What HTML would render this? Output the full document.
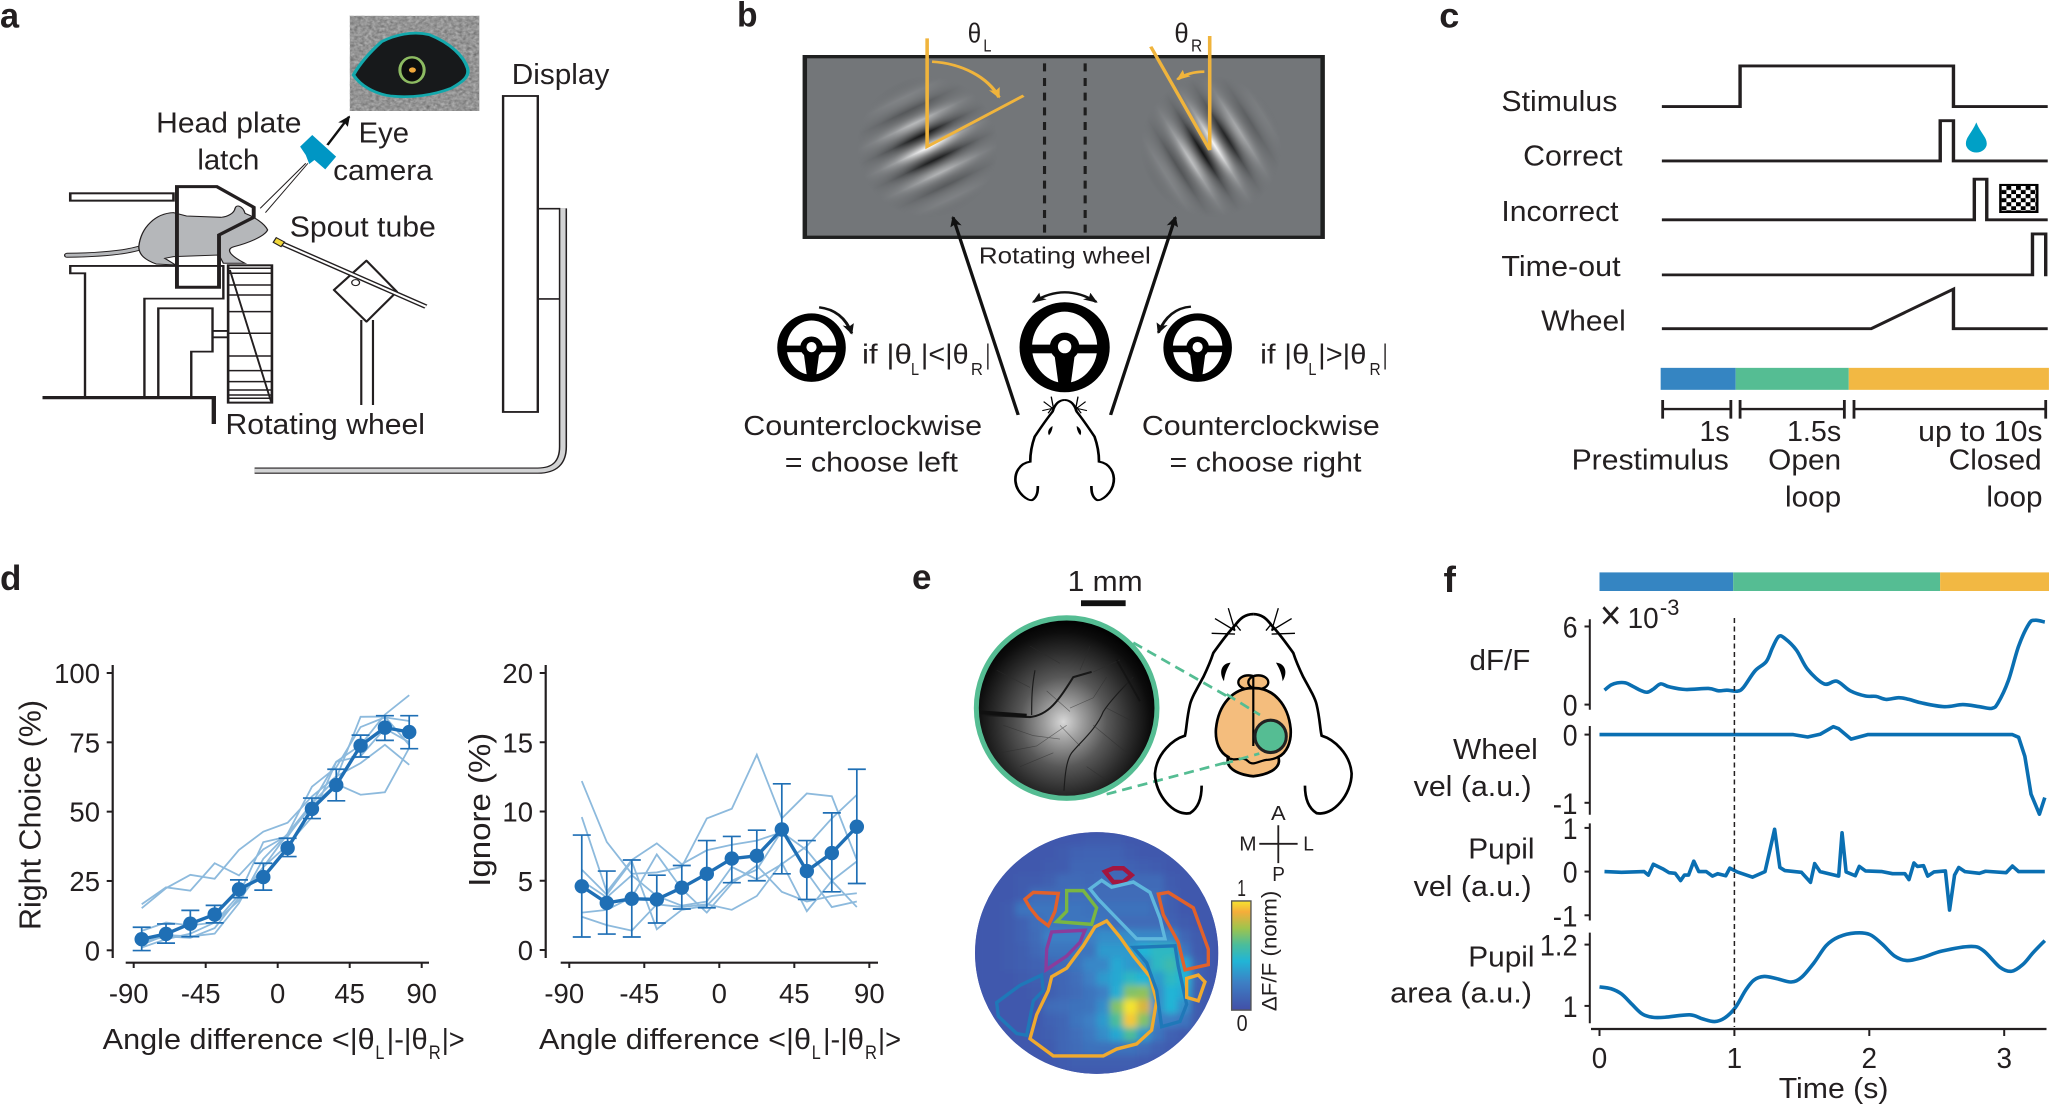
<!DOCTYPE html>
<html lang="en">
<head>
<meta charset="utf-8">
<title>Behavior task and widefield imaging figure</title>
<style>
html,body{margin:0;padding:0;background:#fff;overflow:hidden;}
svg{display:block;font-family:"Liberation Sans",sans-serif;fill:#231f20;}
text{fill:#231f20;}
.b{font-weight:bold;font-size:35px;}
.ln{fill:none;stroke:#231f20;}
</style>
</head>
<body>
<svg id="fig" xmlns="http://www.w3.org/2000/svg" width="2049" height="1108" viewBox="0 0 2049 1108">
<defs>
<marker id="ah" markerUnits="userSpaceOnUse" markerWidth="34" markerHeight="28" refX="28" refY="13" orient="auto-start-reverse"><path d="M0 0L32 13L0 26L7 13Z" fill="#111"/></marker>
<marker id="ao" markerUnits="userSpaceOnUse" markerWidth="34" markerHeight="28" refX="28" refY="13" orient="auto"><path d="M0 0L32 13L0 26L7 13Z" fill="#f0b43c"/></marker>
<linearGradient id="gabL" gradientUnits="userSpaceOnUse" x1="436" y1="416" x2="478" y2="482" spreadMethod="repeat">
<stop offset="0" stop-color="#000"/><stop offset=".25" stop-color="#777"/><stop offset=".5" stop-color="#fff"/><stop offset=".75" stop-color="#777"/><stop offset="1" stop-color="#000"/></linearGradient>
<linearGradient id="gabR" gradientUnits="userSpaceOnUse" x1="1078" y1="452" x2="1140" y2="423" spreadMethod="repeat">
<stop offset="0" stop-color="#000"/><stop offset=".25" stop-color="#777"/><stop offset=".5" stop-color="#fff"/><stop offset=".75" stop-color="#777"/><stop offset="1" stop-color="#000"/></linearGradient>
<radialGradient id="fade"><stop offset="0" stop-color="#fff"/><stop offset=".25" stop-color="#b0b0b0"/><stop offset=".5" stop-color="#505050"/><stop offset=".75" stop-color="#1c1c1c"/><stop offset="1" stop-color="#000"/></radialGradient>
<mask id="mL" maskUnits="userSpaceOnUse" x="295" y="215" width="340" height="450"><ellipse cx="465" cy="440" rx="158" ry="212" fill="url(#fade)"/></mask>
<mask id="mR" maskUnits="userSpaceOnUse" x="930" y="215" width="340" height="450"><ellipse cx="1100" cy="440" rx="158" ry="212" fill="url(#fade)"/></mask>
<pattern id="chk" patternUnits="userSpaceOnUse" width="24" height="24" x="1450" y="550"><rect width="24" height="24" fill="#000"/><rect width="12" height="12" fill="#fff"/><rect x="12" y="12" width="12" height="12" fill="#fff"/></pattern>
<radialGradient id="brainImg" gradientUnits="userSpaceOnUse" cx="430" cy="470" r="290"><stop offset="0" stop-color="#d8d8d8"/><stop offset=".2" stop-color="#9c9c9c"/><stop offset=".45" stop-color="#585858"/><stop offset=".7" stop-color="#2c2c2c"/><stop offset=".9" stop-color="#0c0c0c"/><stop offset="1" stop-color="#030303"/></radialGradient>
<linearGradient id="cbar" x1="0" y1="1" x2="0" y2="0"><stop offset="0" stop-color="#424fa7"/><stop offset=".25" stop-color="#3d7fc4"/><stop offset=".45" stop-color="#21b5d6"/><stop offset=".6" stop-color="#4bbd9a"/><stop offset=".75" stop-color="#9fc44d"/><stop offset=".9" stop-color="#f5ad3a"/><stop offset="1" stop-color="#f5e42f"/></linearGradient>
<clipPath id="heatClip"><ellipse cx="530" cy="1141" rx="365" ry="351"/></clipPath>
<filter id="soft" x="-5%" y="-5%" width="110%" height="110%"><feGaussianBlur stdDeviation="10"/></filter>
<filter id="grain" x="0" y="0" width="100%" height="100%"><feTurbulence type="fractalNoise" baseFrequency=".12" numOctaves="2" seed="4"/><feColorMatrix values="0 0 0 0 .45 0 0 0 0 .45 0 0 0 0 .45 .9 .9 0 0 -.35"/></filter>
<g id="steer"><ellipse rx="87" ry="121" fill="none" stroke="#000" stroke-width="28"/><rect x="-92" y="-8" width="184" height="26" fill="#000"/><path d="M-24 10L24 10L13 118L-13 118Z" fill="#000"/><ellipse cy="-2" rx="33" ry="42" fill="#000"/><ellipse cy="-2" rx="15" ry="20" fill="#fff"/></g>
<g id="mouseHalfB"><path d="M772 1200C760 1200 750 1212 745 1235C730 1260 715 1290 705 1310C697 1340 695 1370 695 1385C670 1390 660 1420 662 1445C665 1480 690 1505 700 1500C712 1490 712 1470 712 1458" fill="none" stroke="#000" stroke-width="6"/><path d="M745 1225L725 1205M745 1225L722 1232M748 1232L742 1190M745 1222L735 1240" stroke="#000" stroke-width="3" fill="none"/><path d="M745 1278C735 1285 733 1298 737 1306C742 1298 745 1288 745 1278Z" fill="#000"/></g>
<g id="mouseHalfE"><path d="M1000 157C975 157 960 170 945 190C920 215 895 250 880 270C870 300 860 320 850 340C830 375 815 400 810 420C800 460 800 490 795 510C760 520 710 560 705 620C705 680 760 745 810 735C835 720 845 690 845 655" fill="none" stroke="#000" stroke-width="8"/><path d="M945 205L925 140M945 205L885 170M945 215L875 213M962 205L945 185" fill="none" stroke="#000" stroke-width="4"/><path d="M932 298C905 300 895 325 912 352C915 325 925 310 932 298Z" fill="#000"/></g>
</defs>

<rect width="2049" height="1108" fill="#fff"/>

<!-- PANEL A -->
<g transform="scale(.4337,.3333)" font-size="86">
<text class="b" style="font-size:105px" x="0" y="82" textLength="44" lengthAdjust="spacingAndGlyphs">a</text>
<g>
<rect x="807" y="48" width="298" height="285" fill="#6e6e6e"/>
<rect x="807" y="48" width="298" height="285" filter="url(#grain)"/>
<path d="M815 225C830 190 850 160 880 125C910 105 950 92 990 104C1040 130 1070 170 1078 205C1082 225 1075 240 1040 265C1000 285 950 295 900 288C860 280 830 255 815 225Z" fill="#17191b" stroke="#13a8ac" stroke-width="8"/>
<ellipse cx="950" cy="210" rx="28" ry="38" fill="#0d0d0d" stroke="#8dbb62" stroke-width="7"/>
<ellipse cx="951" cy="210" rx="8" ry="8" fill="#f0a83c"/>
</g>
<text x="1180" y="252" textLength="225" lengthAdjust="spacingAndGlyphs">Display</text>
<text x="360" y="398" textLength="335" lengthAdjust="spacingAndGlyphs">Head plate</text>
<text x="455" y="508" textLength="143" lengthAdjust="spacingAndGlyphs">latch</text>
<text x="827" y="428" textLength="116" lengthAdjust="spacingAndGlyphs">Eye</text>
<text x="768" y="540" textLength="230" lengthAdjust="spacingAndGlyphs">camera</text>
<text x="668" y="710" textLength="337" lengthAdjust="spacingAndGlyphs">Spout tube</text>
<text x="520" y="1302" textLength="460" lengthAdjust="spacingAndGlyphs">Rotating wheel</text>
<path d="M755 435L805 350" stroke="#111" stroke-width="6" fill="none" marker-end="url(#ah)"/>
<path d="M720 405L775 470L750 508L725 480L713 492L705 465L692 440Z" fill="#0096c4"/>
<path d="M705 490L600 625M710 490L612 638" stroke="#231f20" stroke-width="2.5" fill="none"/>
<rect x="162" y="580" width="238" height="22" fill="none" stroke="#231f20" stroke-width="6"/>
<path d="M155 766C210 765 280 760 320 745" fill="none" stroke="#231f20" stroke-width="15" stroke-linecap="round"/>
<path d="M155 766C210 765 280 760 320 745" fill="none" stroke="#b5b7ba" stroke-width="9" stroke-linecap="round"/>
<path d="M320 740C325 680 360 640 400 638L430 648L510 652C525 650 540 640 542 625C545 612 560 618 565 640C585 650 610 670 617 690C610 710 570 730 540 740C525 745 520 760 565 790L515 790L505 765L400 770L380 775L405 795L360 792C335 780 320 765 320 740Z" fill="#b5b7ba" stroke="#231f20" stroke-width="3"/>
<path d="M408 862V560H500L585 622V652L505 705V862Z" fill="none" stroke="#231f20" stroke-width="9"/>
<path d="M196 1190V820H162V798H515V896H333V1190M365 1190V925H490V1055H441V1190M492 993H525M492 1012H525" fill="none" stroke="#231f20" stroke-width="5.5"/>
<path d="M98 1193H493V1272" fill="none" stroke="#231f20" stroke-width="10"/>
<rect x="526" y="796" width="101" height="412" fill="#fff" stroke="#231f20" stroke-width="6"/>
<path d="M526 805H627M526 820H627M526 855H627M526 885H627M526 935H627M526 1000H627M526 1068H627M526 1112H627M526 1145H627M526 1170H627M526 1185H627M526 1195H627M530 810L625 1205" fill="none" stroke="#231f20" stroke-width="4.5"/>
<path d="M845 782L915 875L845 965L770 870Z" fill="#fff" stroke="#231f20" stroke-width="5.5" stroke-linejoin="round"/>
<path d="M833 960V1215M860 960V1215" fill="none" stroke="#231f20" stroke-width="5"/>
<circle cx="820" cy="848" r="9" fill="#fff" stroke="#231f20" stroke-width="3"/>
<path d="M640 725L982 920" stroke="#231f20" stroke-width="14" fill="none"/>
<path d="M640 725L982 920" stroke="#fff" stroke-width="6" fill="none"/>
<path d="M637 713L656 726L648 740L630 727Z" fill="#f2d83a" stroke="#231f20" stroke-width="3"/>
<rect x="1160" y="288" width="80" height="948" fill="#fff" stroke="#231f20" stroke-width="5.5"/>
<path d="M1240 626H1292M1240 897H1292" fill="none" stroke="#231f20" stroke-width="5"/>
<path d="M1298 625V1340Q1298 1412 1240 1412H587" fill="none" stroke="#231f20" stroke-width="19"/>
<path d="M1298 625V1340Q1298 1412 1240 1412H587" fill="none" stroke="#d2d3d4" stroke-width="12"/>
</g>

<!-- PANEL B -->
<g transform="translate(720,0) scale(.4464,.3333)" font-size="83">
<text class="b" style="font-size:105px" x="38" y="80" textLength="46" lengthAdjust="spacingAndGlyphs">b</text>
<rect x="190" y="170" width="1160" height="542" fill="#737679" stroke="#1f2020" stroke-width="10"/>
<ellipse cx="465" cy="440" rx="158" ry="212" fill="url(#gabL)" mask="url(#mL)"/>
<ellipse cx="1100" cy="440" rx="158" ry="212" fill="url(#gabR)" mask="url(#mR)"/>
<path d="M727 190V698M818 190V698" stroke="#1d1d1d" stroke-width="7" stroke-dasharray="24 20" fill="none"/>
<path d="M464 115V440L680 287" stroke="#f0b43c" stroke-width="8" fill="none"/>
<path d="M475 185C540 190 600 230 625 292" stroke="#f0b43c" stroke-width="8" fill="none" marker-end="url(#ao)"/>
<path d="M1097 108V450L965 140" stroke="#f0b43c" stroke-width="8" fill="none"/>
<path d="M1085 215Q1050 215 1025 238" stroke="#f0b43c" stroke-width="8" fill="none" marker-end="url(#ao)"/>
<text x="555" y="128" textLength="30" lengthAdjust="spacingAndGlyphs">θ</text>
<text x="590" y="155" font-size="52" textLength="18" lengthAdjust="spacingAndGlyphs">L</text>
<text x="1018" y="128" textLength="32" lengthAdjust="spacingAndGlyphs">θ</text>
<text x="1055" y="155" font-size="52" textLength="25" lengthAdjust="spacingAndGlyphs">R</text>
<path d="M668 1245L522 652" stroke="#111" stroke-width="7.5" fill="none" marker-end="url(#ah)"/>
<path d="M875 1245L1020 652" stroke="#111" stroke-width="7.5" fill="none" marker-end="url(#ah)"/>
<text x="580" y="790" font-size="70" textLength="385" lengthAdjust="spacingAndGlyphs">Rotating wheel</text>
<use href="#steer" transform="translate(772,1042)"/>
<use href="#steer" transform="translate(205,1043) scale(.76)"/>
<use href="#steer" transform="translate(1070,1043) scale(.76)"/>
<path d="M702 906Q772 848 843 906" stroke="#111" stroke-width="7" fill="none" marker-start="url(#ah)" marker-end="url(#ah)"/>
<path d="M222 922Q275 930 295 1000" stroke="#111" stroke-width="7" fill="none" marker-end="url(#ah)"/>
<path d="M1055 920Q1005 925 982 998" stroke="#111" stroke-width="7" fill="none" marker-end="url(#ah)"/>
<g>
<text x="318" y="1090" textLength="112" lengthAdjust="spacingAndGlyphs">if |θ</text>
<text x="428" y="1125" font-size="52" textLength="18" lengthAdjust="spacingAndGlyphs">L</text>
<text x="450" y="1090" textLength="107" lengthAdjust="spacingAndGlyphs">|&lt;|θ</text>
<text x="562" y="1125" font-size="52" textLength="27" lengthAdjust="spacingAndGlyphs">R</text>
<text x="595" y="1090" textLength="10" lengthAdjust="spacingAndGlyphs">|</text>
</g>
<g>
<text x="1210" y="1090" textLength="110" lengthAdjust="spacingAndGlyphs">if |θ</text>
<text x="1318" y="1125" font-size="52" textLength="18" lengthAdjust="spacingAndGlyphs">L</text>
<text x="1340" y="1090" textLength="108" lengthAdjust="spacingAndGlyphs">|&gt;|θ</text>
<text x="1455" y="1125" font-size="52" textLength="25" lengthAdjust="spacingAndGlyphs">R</text>
<text x="1485" y="1090" textLength="10" lengthAdjust="spacingAndGlyphs">|</text>
</g>
<text x="52" y="1305" textLength="535" lengthAdjust="spacingAndGlyphs">Counterclockwise</text>
<text x="145" y="1415" textLength="388" lengthAdjust="spacingAndGlyphs">= choose left</text>
<text x="945" y="1305" textLength="533" lengthAdjust="spacingAndGlyphs">Counterclockwise</text>
<text x="1007" y="1415" textLength="430" lengthAdjust="spacingAndGlyphs">= choose right</text>
<g>
<use href="#mouseHalfB"/>
<use href="#mouseHalfB" transform="translate(1544,0) scale(-1,1)"/>
</g>
</g>

<!-- PANEL C -->
<g transform="translate(1420,0) scale(.4011,.3381)" font-size="86">
<text class="b" style="font-size:104px" x="48" y="82" textLength="50" lengthAdjust="spacingAndGlyphs">c</text>
<text x="203" y="328" textLength="289" lengthAdjust="spacingAndGlyphs">Stimulus</text>
<text x="257" y="490" textLength="248" lengthAdjust="spacingAndGlyphs">Correct</text>
<text x="203" y="653" textLength="292" lengthAdjust="spacingAndGlyphs">Incorrect</text>
<text x="203" y="816" textLength="297" lengthAdjust="spacingAndGlyphs">Time-out</text>
<text x="302" y="978" textLength="211" lengthAdjust="spacingAndGlyphs">Wheel</text>
<path class="ln" stroke-width="8.5" d="M603 315H798V195H1330V315H1565"/>
<path class="ln" stroke-width="8.5" d="M603 476H1297V357H1330V476H1565"/>
<path class="ln" stroke-width="8.5" d="M603 650H1382V530H1413V650H1565"/>
<path class="ln" stroke-width="8.5" d="M603 813H1527V692H1560V817"/>
<path class="ln" stroke-width="8.5" d="M603 972H1125L1330 855V972H1565"/>
<path d="M1387 362C1375 395 1361 405 1361 425A26 26 0 0 0 1413 425C1413 405 1398 395 1387 362Z" fill="#00a0c6"/>
<rect x="1447" y="547" width="92" height="80" fill="url(#chk)" stroke="#000" stroke-width="6"/>
<rect x="600" y="1088" width="187" height="65" fill="#3585c2"/>
<rect x="787" y="1088" width="282" height="65" fill="#55bd93"/>
<rect x="1069" y="1088" width="499" height="65" fill="#f2b843"/>
<path class="ln" stroke-width="7" d="M605 1183V1238M605 1210H775M775 1183V1238M798 1183V1238M798 1210H1058M1058 1183V1238M1082 1183V1238M1082 1210H1560M1560 1183V1238"/>
<text x="697" y="1305" textLength="75" lengthAdjust="spacingAndGlyphs">1s</text>
<text x="915" y="1305" textLength="135" lengthAdjust="spacingAndGlyphs">1.5s</text>
<text x="1242" y="1305" textLength="310" lengthAdjust="spacingAndGlyphs">up to 10s</text>
<text x="378" y="1388" textLength="392" lengthAdjust="spacingAndGlyphs">Prestimulus</text>
<text x="868" y="1388" textLength="182" lengthAdjust="spacingAndGlyphs">Open</text>
<text x="910" y="1498" textLength="140" lengthAdjust="spacingAndGlyphs">loop</text>
<text x="1318" y="1388" textLength="232" lengthAdjust="spacingAndGlyphs">Closed</text>
<text x="1412" y="1498" textLength="140" lengthAdjust="spacingAndGlyphs">loop</text>
</g>

<!-- PANEL D static labels -->
<g font-size="29">
<text class="b" x="0" y="590">d</text>
<text transform="translate(40.7,930) rotate(-90)" font-size="31" textLength="230" lengthAdjust="spacingAndGlyphs">Right Choice (%)</text>
<g>
<text x="102.7" y="1049" textLength="272" lengthAdjust="spacingAndGlyphs">Angle difference &lt;|θ</text>
<text x="375.4" y="1059" font-size="19" textLength="9" lengthAdjust="spacingAndGlyphs">L</text>
<text x="386.7" y="1049" textLength="41" lengthAdjust="spacingAndGlyphs">|-|θ</text>
<text x="428.7" y="1059" font-size="19" textLength="12" lengthAdjust="spacingAndGlyphs">R</text>
<text x="441.7" y="1049" textLength="23" lengthAdjust="spacingAndGlyphs">|&gt;</text>
</g>
<text transform="translate(490,886.7) rotate(-90)" font-size="31" textLength="154" lengthAdjust="spacingAndGlyphs">Ignore (%)</text>
<g>
<text x="539" y="1049" textLength="272" lengthAdjust="spacingAndGlyphs">Angle difference &lt;|θ</text>
<text x="811.7" y="1059" font-size="19" textLength="9" lengthAdjust="spacingAndGlyphs">L</text>
<text x="823" y="1049" textLength="41" lengthAdjust="spacingAndGlyphs">|-|θ</text>
<text x="865" y="1059" font-size="19" textLength="12" lengthAdjust="spacingAndGlyphs">R</text>
<text x="878" y="1049" textLength="23" lengthAdjust="spacingAndGlyphs">|&gt;</text>
</g>
</g>

<!-- PANEL E -->
<text class="b" x="912" y="589">e</text>
<g transform="translate(920,560) scale(.3333,.3444)" font-size="84">
<text x="443" y="90" textLength="225" lengthAdjust="spacingAndGlyphs">1 mm</text>
<rect x="483" y="117" width="134" height="17" fill="#111"/>
<path d="M640 240L1020 450M560 680L1020 562" stroke="#55bd93" stroke-width="8" stroke-dasharray="30 18" fill="none"/>
<g>
<ellipse cx="440" cy="430" rx="271" ry="262" fill="url(#brainImg)" stroke="#55bd93" stroke-width="15"/>
<path d="M190 450L330 456C390 450 420 400 460 340L515 325" fill="none" stroke="#181818" stroke-width="6"/>
<path d="M180 442L320 452" fill="none" stroke="#101010" stroke-width="11"/>
<path d="M345 320C335 370 335 410 335 450M432 670C435 620 440 580 455 560C480 530 530 490 550 440C570 410 600 380 640 340" fill="none" stroke="#1c1c1c" stroke-width="3.5"/>
<path d="M230 320L330 370M510 250L480 320M600 290L520 325M240 560L350 540L440 480M420 480L480 540M520 480L620 560M560 430L640 470M300 600L400 560M330 250L420 300M250 480L340 510L420 520M450 430L520 400L560 340M380 380L450 440M500 600L560 640" fill="none" stroke="#2c2c2c" stroke-width="2" opacity=".55"/>
<path d="M590 290L660 410" fill="none" stroke="#0c0c0c" stroke-width="6" opacity=".5"/>
</g>
<g>
<use href="#mouseHalfE"/>
<use href="#mouseHalfE" transform="translate(2000,0) scale(-1,1)"/>
<ellipse cx="985" cy="355" rx="30" ry="20" fill="#f4bd7d" stroke="#000" stroke-width="7"/>
<ellipse cx="1015" cy="355" rx="30" ry="20" fill="#f4bd7d" stroke="#000" stroke-width="7"/>
<path d="M1000 372C940 370 895 420 888 490C885 530 900 560 925 572C915 600 945 622 1000 628C1055 622 1085 600 1075 572C1100 560 1115 530 1112 490C1105 420 1060 370 1000 372Z" fill="#f4bd7d" stroke="#000" stroke-width="8"/>
<path d="M1000 340V540M920 572C950 590 965 565 985 585C1000 600 1020 580 1045 580C1065 578 1075 572 1082 568" fill="none" stroke="#000" stroke-width="6.5"/>
<circle cx="1052" cy="512" r="47" fill="#55bd93" stroke="#222" stroke-width="9"/>
<path d="M910 592L1018 562" stroke="#55bd93" stroke-width="8" stroke-dasharray="30 18" fill="none"/>
<path d="M920 390L1020 450" stroke="#55bd93" stroke-width="8" stroke-dasharray="30 18" fill="none"/>
</g>
<g font-size="58">
<path d="M1018 824H1133M1075 770V880" stroke="#231f20" stroke-width="5.5" fill="none"/>
<text x="1053" y="755" textLength="44" lengthAdjust="spacingAndGlyphs">A</text>
<text x="958" y="843" textLength="52" lengthAdjust="spacingAndGlyphs">M</text>
<text x="1150" y="843" textLength="32" lengthAdjust="spacingAndGlyphs">L</text>
<text x="1057" y="932" textLength="38" lengthAdjust="spacingAndGlyphs">P</text>
</g>
<g id="heatmapClip" clip-path="url(#heatClip)"><rect x="165" y="775" width="730" height="730" fill="#424fa7"/><g id="heatCells" filter="url(#soft)"></g></g>
<g fill="none" stroke-width="10" stroke-linejoin="miter">
<path d="M555 905L580 895H610L635 915L610 935H580Z" stroke="#a3163f" stroke-width="13"/>
<path d="M510 955L545 930L575 950L640 935L690 965L720 1040L735 1100H650L610 1060L570 1020L535 985Z" stroke="#5fb7dd"/>
<path d="M315 985L340 965L415 968L405 1020L385 1062L355 1040L330 1010Z" stroke="#e2612a"/>
<path d="M440 960H490L530 1010L515 1058L410 1050L440 1020Z" stroke="#7ab642"/>
<path d="M395 1080L495 1075L480 1110L440 1150L378 1190L380 1130Z" stroke="#8a3c9c"/>
<path d="M560 1048L600 1095L640 1150L690 1210L710 1280L695 1365L650 1405L590 1420L550 1440H400L330 1390L350 1320L385 1250L395 1210L440 1185L490 1120L525 1065Z" stroke="#f0aa2e"/>
<path d="M230 1285L300 1235L365 1205L370 1250L340 1280L320 1380L290 1375L235 1325Z" stroke="#1f78b8"/>
<path d="M640 1125L765 1120L775 1180L800 1290L780 1340L725 1355L710 1250L680 1170Z" stroke="#1f78b8"/>
<path d="M715 970L745 965L820 1010L865 1130V1175L795 1190L775 1110L730 1030Z" stroke="#e2612a"/>
<path d="M800 1215L835 1205L855 1225L835 1280L800 1270Z" stroke="#f0aa2e"/>
</g>
<rect x="935" y="990" width="58" height="317" fill="url(#cbar)" stroke="#555" stroke-width="4"/>
<text x="952" y="975" font-size="68" textLength="26" lengthAdjust="spacingAndGlyphs">1</text>
<text x="950" y="1368" font-size="68" textLength="33" lengthAdjust="spacingAndGlyphs">0</text>
<text transform="translate(1070,1310) rotate(-90)" font-size="64" textLength="350" lengthAdjust="spacingAndGlyphs">ΔF/F (norm)</text>
</g>

<!-- PANEL F static labels -->
<g transform="translate(1400,560) scale(.4139,.3444)" font-size="82">
<text class="b" style="font-size:104px" x="105" y="93" textLength="30" lengthAdjust="spacingAndGlyphs">f</text>
<rect x="482" y="36" width="323" height="54" fill="#3585c2"/>
<rect x="805" y="36" width="500" height="54" fill="#55bd93"/>
<rect x="1305" y="36" width="263" height="54" fill="#f2b843"/>
<text x="168" y="320" textLength="147" lengthAdjust="spacingAndGlyphs">dF/F</text>
<text x="128" y="578" textLength="205" lengthAdjust="spacingAndGlyphs">Wheel</text>
<text x="33" y="685" textLength="285" lengthAdjust="spacingAndGlyphs">vel (a.u.)</text>
<text x="165" y="867" textLength="160" lengthAdjust="spacingAndGlyphs">Pupil</text>
<text x="33" y="975" textLength="285" lengthAdjust="spacingAndGlyphs">vel (a.u.)</text>
<text x="165" y="1180" textLength="160" lengthAdjust="spacingAndGlyphs">Pupil</text>
<text x="-24" y="1285" textLength="343" lengthAdjust="spacingAndGlyphs">area (a.u.)</text>
<text x="483" y="200" font-size="118" textLength="52" lengthAdjust="spacingAndGlyphs">×</text>
<text x="550" y="197" textLength="75" lengthAdjust="spacingAndGlyphs">10</text>
<text x="628" y="160" font-size="64" textLength="47" lengthAdjust="spacingAndGlyphs">-3</text>
<text x="915" y="1562" textLength="265" lengthAdjust="spacingAndGlyphs">Time (s)</text>
</g>
<g id="charts"></g>
</svg>

<script>
/* Panel d: psychometric curves */
const choiceAngles = [-85,-69.8,-54.6,-39.4,-24.2,-9,6.2,21.4,36.6,51.8,67,82.2];
const choiceMean = [4,5.9,9.6,12.9,22,26.4,36.9,51,59.6,73.8,80.3,78.7];
const choiceUpper = [8.3,9.5,14.4,16.2,25.4,31.4,40.4,54.9,65.3,77.6,84.6,84.6];
const choiceLower = [-0.1,2.6,4.9,9.9,19,21.7,33.8,47.5,53.9,69.7,75.7,72.7];
const choiceMouse1 = [15.2,22.4,27.2,25.8,36.2,42.8,46,55.5,62.7,67.5,74.1,66.9];
const choiceMouse2 = [16.6,22.7,21.5,31.4,27,36.4,41.5,52,60,56.1,57,73];
const choiceMouse3 = [2,5.5,5,6,17,33,42,59,66,80.5,84,82.7];
const choiceMouse4 = [3,5,4.5,8,19,30,42,53,62,84.2,84.3,74];
const choiceMouse5 = [7,10,9,10,18,30,38,48,68,74,85,92];
const choiceMouse6 = [1,4,6,10,20,39,41,53,68,70,80,75];
const choiceYTicks = [0,25,50,75,100];
const ignoreAngles = [-82.5,-67.5,-52.5,-37.5,-22.5,-7.5,7.5,22.5,37.5,52.5,67.5,82.5];
const ignoreMean = [4.6,3.4,3.7,3.65,4.5,5.5,6.6,6.8,8.7,5.7,7,8.9];
const ignoreUpper = [8.3,5.7,6.5,5.4,6.1,7.9,8.2,8.65,12,7.9,9.9,13.05];
const ignoreLower = [0.94,1.15,0.94,1.95,2.96,3.05,4.86,5,5.5,3.65,4.2,4.8];
const ignoreMouse1 = [12.2,7.8,5.5,5.6,6,9.5,10.2,14.1,9.5,11.3,11.1,6.5];
const ignoreMouse2 = [9.6,4.2,6.5,7.7,6.2,7.2,7.6,7.9,8.5,7.2,5,3.1];
const ignoreMouse3 = [5.8,4,6.4,1.5,2.9,3.2,5,5.8,8.6,5.6,3.1,3.5];
const ignoreMouse4 = [2.7,2.9,3.8,6.9,4.4,2.7,4.8,6.1,4.2,3.5,3.9,4.1];
const ignoreMouse5 = [2.4,1.8,1.4,3.3,3.1,3.3,2.9,3.9,6.3,2.8,5,6.4];
const ignoreMouse6 = [5,3.8,5.4,3.9,3.2,3.5,6,5.1,6.2,7.5,9.5,11.2];
const ignoreYTicks = [0,5,10,15,20];
const angleTicks = [-90,-45,0,45,90];

/* Panel f: time-aligned traces */
const timeTicks = [0,1,2,3];
const dffTime = [0.037,0.086,0.132,0.193,0.239,0.301,0.353,0.399,0.454,0.515,0.638,0.807,0.883,0.945,1.021,1.067,1.153,1.236,1.282,1.328,1.374,1.46,1.543,1.666,1.758,1.859,1.972,2.049,2.126,2.218,2.294,2.387,2.555,2.693,2.816,2.908,2.954,3.031,3.107,3.184,3.23,3.301];
const dffValues = [1.11,1.51,1.67,1.67,1.45,1.11,0.95,1.19,1.59,1.37,1.16,1.24,1.06,1.11,1.03,1.32,2.59,3.3,4.36,5.23,5.08,4.18,2.7,1.59,1.8,1.06,0.66,0.63,0.4,0.53,0.4,0.13,-0.16,0,-0.16,-0.29,0.13,1.85,4.49,6.21,6.48,6.34];
const dffTicks = [0,6];
const wheelTime = [0,1.436,1.543,1.635,1.733,1.773,1.865,1.988,3.061,3.107,3.153,3.199,3.261,3.301];
const wheelValues = [0,0,-0.035,0.005,0.116,0.086,-0.066,0,0,-0.04,-0.318,-0.874,-1.167,-0.924];
const wheelTicks = [0,-1];
const pupilVelTime = [0.037,0.163,0.331,0.362,0.399,0.469,0.515,0.561,0.601,0.629,0.66,0.699,0.736,0.791,0.837,0.877,0.936,0.966,1.021,1.135,1.227,1.298,1.337,1.374,1.497,1.564,1.595,1.635,1.773,1.798,1.828,1.896,1.926,1.972,2.095,2.172,2.264,2.294,2.331,2.356,2.402,2.433,2.479,2.564,2.595,2.632,2.663,2.709,2.816,2.862,3.015,3.061,3.107,3.301];
const pupilVelValues = [0,-0.016,0,-0.08,0.167,0.063,-0.024,-0.04,-0.206,-0.08,-0.08,0.238,0,0,-0.103,-0.048,-0.095,0.079,-0.008,-0.127,0,0.968,0.095,0.024,-0.016,-0.246,0.183,0,-0.103,0.889,-0.008,-0.095,0.119,0.016,0,-0.048,-0.048,-0.183,0.198,0.119,0.135,-0.103,-0.008,0.016,-0.881,-0.08,0.095,0,-0.04,0.008,-0.024,0.127,0,0];
const pupilVelTicks = [1,0,-1];
const areaTime = [0,0.086,0.163,0.239,0.316,0.393,0.485,0.669,0.761,0.853,0.929,1.006,1.083,1.144,1.221,1.313,1.42,1.497,1.589,1.681,1.773,1.896,2.003,2.095,2.187,2.279,2.387,2.54,2.755,2.847,2.969,3.055,3.138,3.215,3.301];
const areaValues = [1.062,1.056,1.039,1.006,0.974,0.963,0.963,0.971,0.958,0.949,0.961,0.994,1.051,1.084,1.096,1.089,1.078,1.093,1.14,1.197,1.225,1.238,1.233,1.202,1.163,1.148,1.157,1.179,1.194,1.18,1.126,1.113,1.135,1.174,1.213];
const areaTicks = [1,1.2];

/* Panel e: normalised activity on a coarse grid */
const heatRows = [
[.05,.05,.05,.05,.05,.05,.05,.05,.06,.06,.06,.05,.05,.05,.05,.05,.05,.05],
[.05,.05,.05,.05,.05,.05,.06,.1,.11,.11,.1,.07,.05,.05,.05,.05,.05,.05],
[.05,.05,.05,.05,.05,.06,.07,.12,.12,.12,.12,.1,.08,.07,.05,.05,.05,.05],
[.05,.05,.05,.06,.07,.09,.14,.14,.13,.14,.14,.14,.14,.14,.07,.05,.05,.05],
[.05,.05,.05,.07,.15,.15,.15,.16,.16,.15,.15,.15,.15,.15,.08,.05,.05,.05],
[.05,.05,.06,.2,.2,.2,.2,.2,.18,.18,.18,.18,.18,.14,.08,.05,.05,.05],
[.05,.05,.06,.1,.16,.2,.2,.2,.2,.2,.15,.15,.15,.15,.1,.06,.05,.05],
[.05,.05,.06,.1,.15,.25,.25,.25,.25,.3,.3,.3,.28,.28,.28,.12,.06,.05],
[.05,.05,.06,.08,.13,.2,.2,.2,.2,.35,.35,.35,.45,.5,.5,.2,.07,.05],
[.05,.05,.06,.08,.1,.12,.15,.2,.28,.28,.4,.35,.3,.5,.55,.4,.1,.05],
[.05,.05,.05,.06,.08,.1,.12,.16,.25,.35,.4,.5,.45,.35,.5,.45,.1,.05],
[.05,.05,.05,.05,.06,.08,.12,.15,.2,.25,.42,.7,.72,.3,.45,.4,.08,.05],
[.05,.05,.05,.05,.05,.15,.16,.18,.2,.3,.7,1,.85,.3,.45,.3,.07,.05],
[.05,.05,.05,.05,.05,.1,.12,.2,.25,.35,.6,.95,.7,.25,.25,.2,.06,.05],
[.05,.05,.05,.05,.06,.08,.12,.16,.22,.3,.4,.6,.35,.2,.1,.07,.05,.05],
[.05,.05,.05,.05,.05,.07,.12,.15,.18,.18,.18,.18,.15,.1,.07,.05,.05,.05],
[.05,.05,.05,.05,.05,.05,.07,.08,.08,.08,.08,.08,.07,.05,.05,.05,.05,.05],
[.05,.05,.05,.05,.05,.05,.05,.05,.05,.05,.05,.05,.05,.05,.05,.05,.05,.05]
];

const NS = 'http://www.w3.org/2000/svg';
const charts = document.getElementById('charts');
function mk(tag, attrs, parent, txt) {
  const el = document.createElementNS(NS, tag);
  for (const k in attrs) el.setAttribute(k, attrs[k]);
  if (txt !== undefined) el.textContent = txt;
  parent.appendChild(el);
  return el;
}
const AXIS = '#231f20';

/* ---------- psychometric panels ---------- */
function drawPsych(cfg) {
  const g = mk('g', {}, charts);
  
  
  const X = a => cfg.x0 + a * cfg.xs;
  const Y = v => cfg.y0 - v * cfg.ys;

  const yAxis = mk('line', {x1: cfg.ax, x2: cfg.ax, y1: 665, y2: 958, stroke: AXIS, 'stroke-width': 2.2}, g);
  
  
  const xAxis = mk('line', {x1: cfg.xa0, x2: cfg.xa1, y1: 962.7, y2: 962.7, stroke: AXIS, 'stroke-width': 2.2}, g);
  
  

  cfg.yTicks.forEach(v => {
    const t = mk('line', {x1: cfg.ax - 6, x2: cfg.ax, y1: Y(v), y2: Y(v), stroke: AXIS, 'stroke-width': 2}, g);
    
    
    const l = mk('text', {x: cfg.ax - 12.7, y: Y(v) + 10, 'text-anchor': 'end', 'font-size': 27.5}, g, String(v));
    
    
  });
  angleTicks.forEach(a => {
    const t = mk('line', {x1: X(a), x2: X(a), y1: 962.7, y2: 968, stroke: AXIS, 'stroke-width': 2}, g);
    
    
    const l = mk('text', {x: X(a) - (a < 0 ? 5 : 0), y: 1003, 'text-anchor': 'middle', 'font-size': 27.5}, g, String(a));
    
    
  });
  cfg.mice.forEach(vals => {
    const p = mk('polyline', {points: vals.map((v, i) => X(cfg.angles[i]) + ',' + Y(v)).join(' '), fill: 'none', stroke: '#8dbadd', 'stroke-width': 1.8}, g);
    
    
  });
  cfg.angles.forEach((a, i) => {
    const bar = mk('path', {d: 'M' + (X(a) - 9) + ' ' + Y(cfg.upper[i]) + 'H' + (X(a) + 9) + 'M' + X(a) + ' ' + Y(cfg.upper[i]) + 'V' + Y(cfg.lower[i]) + 'M' + (X(a) - 9) + ' ' + Y(cfg.lower[i]) + 'H' + (X(a) + 9), fill: 'none', stroke: '#1f6fb5', 'stroke-width': 1.7}, g);
    
    
  });
  const m = mk('polyline', {points: cfg.mean.map((v, i) => X(cfg.angles[i]) + ',' + Y(v)).join(' '), fill: 'none', stroke: '#1f6fb5', 'stroke-width': 3.4}, g);
  
  
  cfg.mean.forEach((v, i) => {
    const c = mk('circle', {cx: X(cfg.angles[i]), cy: Y(v), r: 7.2, fill: '#1f6fb5'}, g);
    
    
  });
}
drawPsych({name: 'right-choice-chart', x0: 277.7, xs: 1.6, y0: 950.3, ys: 2.773, ax: 112.7, xa0: 125.7, xa1: 429,
  angles: choiceAngles, mean: choiceMean, upper: choiceUpper, lower: choiceLower,
  mice: [choiceMouse1, choiceMouse2, choiceMouse3, choiceMouse4, choiceMouse5, choiceMouse6], yTicks: choiceYTicks});
drawPsych({name: 'ignore-chart', x0: 719.3, xs: 1.667, y0: 950, ys: 13.85, ax: 545.7, xa0: 560.7, xa1: 878,
  angles: ignoreAngles, mean: ignoreMean, upper: ignoreUpper, lower: ignoreLower,
  mice: [ignoreMouse1, ignoreMouse2, ignoreMouse3, ignoreMouse4, ignoreMouse5, ignoreMouse6], yTicks: ignoreYTicks});

/* ---------- time traces ---------- */
const tX = t => 1599.5 + t * 134.9;
function labelWidth(s) {
  let w = 0;
  for (const ch of s) w += ch === '.' ? 8 : ch === '-' ? 10 : 14.8;
  return w;
}
function linePath(pts, smooth) {
  let d = 'M' + pts[0][0] + ' ' + pts[0][1];
  for (let i = 0; i < pts.length - 1; i++) {
    const p0 = pts[Math.max(i - 1, 0)], p1 = pts[i], p2 = pts[i + 1], p3 = pts[Math.min(i + 2, pts.length - 1)];
    if (smooth) {
      d += 'C' + (p1[0] + (p2[0] - p0[0]) / 6) + ' ' + (p1[1] + (p2[1] - p0[1]) / 6) + ' ' + (p2[0] - (p3[0] - p1[0]) / 6) + ' ' + (p2[1] - (p3[1] - p1[1]) / 6) + ' ' + p2[0] + ' ' + p2[1];
    } else {
      d += 'L' + p2[0] + ' ' + p2[1];
    }
  }
  return d;
}
function drawTrace(cfg) {
  const g = mk('g', {}, charts);
  
  
  const axis = mk('line', {x1: 1589.8, x2: 1589.8, y1: cfg.top, y2: cfg.bottom, stroke: AXIS, 'stroke-width': 2}, g);
  
  
  cfg.ticks.forEach(v => {
    const t = mk('line', {x1: 1584.5, x2: 1589.8, y1: cfg.y(v), y2: cfg.y(v), stroke: AXIS, 'stroke-width': 2}, g);
    
    
    const s = String(v);
    const l = mk('text', {x: 1577.5, y: cfg.y(v) + 11, 'text-anchor': 'end', 'font-size': 30, textLength: labelWidth(s), lengthAdjust: 'spacingAndGlyphs'}, g, s);
    
    
  });
  const pts = cfg.t.map((t, i) => [tX(t), cfg.y(cfg.v[i])]);
  const p = mk('path', {d: linePath(pts, cfg.smooth), fill: 'none', stroke: '#0a6fb2', 'stroke-width': 3.6, 'stroke-linejoin': 'round'}, g);
  
  
}
drawTrace({name: 'dff-trace', top: 619.2, bottom: 709.8, ticks: dffTicks, y: v => 704.6 - v * 13.02, t: dffTime, v: dffValues, smooth: true});
drawTrace({name: 'wheel-velocity-trace', top: 726, bottom: 814.8, ticks: wheelTicks, y: v => 734.6 - v * 68.2, t: wheelTime, v: wheelValues, smooth: false});
drawTrace({name: 'pupil-velocity-trace', top: 823.4, bottom: 920.5, ticks: pupilVelTicks, y: v => 871.6 - v * 43.7, t: pupilVelTime, v: pupilVelValues, smooth: false});
drawTrace({name: 'pupil-area-trace', top: 932.6, bottom: 1023.2, ticks: areaTicks, y: v => 1005.9 - (v - 1) * 306.5, t: areaTime, v: areaValues, smooth: true});

const timeAxis = mk('line', {x1: 1591, x2: 2046.5, y1: 1029, y2: 1029, stroke: AXIS, 'stroke-width': 2.2}, charts);


timeTicks.forEach(t => {
  const tk = mk('line', {x1: tX(t), x2: tX(t), y1: 1029, y2: 1036, stroke: AXIS, 'stroke-width': 2}, charts);
  
  
  const l = mk('text', {x: tX(t), y: 1068, 'text-anchor': 'middle', 'font-size': 29, textLength: 15.5, lengthAdjust: 'spacingAndGlyphs'}, charts, String(t));
  
  
});
const onset = mk('line', {x1: tX(1), x2: tX(1), y1: 618, y2: 1027, stroke: '#231f20', 'stroke-width': 1.5, 'stroke-dasharray': '5 3.5'}, charts);



/* ---------- heatmap ---------- */
const cmapStops = [[0,66,79,167],[.25,61,127,196],[.45,33,181,214],[.6,75,189,154],[.75,159,196,77],[.9,245,173,58],[1,245,228,47]];
function cmap(v) {
  for (let i = 1; i < cmapStops.length; i++) {
    if (v <= cmapStops[i][0]) {
      const a = cmapStops[i - 1], b = cmapStops[i], f = (v - a[0]) / (b[0] - a[0]);
      return 'rgb(' + [1, 2, 3].map(k => Math.round(a[k] + (b[k] - a[k]) * f)).join(',') + ')';
    }
  }
  return 'rgb(245,228,47)';
}
const heatG = document.getElementById('heatCells');
const cellSize = 40.5;
heatRows.forEach((row, j) => {
  row.forEach((v, i) => {
    const c = mk('rect', {x: 165 + i * cellSize, y: 790 + j * cellSize, width: cellSize + 1, height: cellSize + 1, fill: cmap(v)}, heatG);
    
    
  });
});
</script>
</body>
</html>
